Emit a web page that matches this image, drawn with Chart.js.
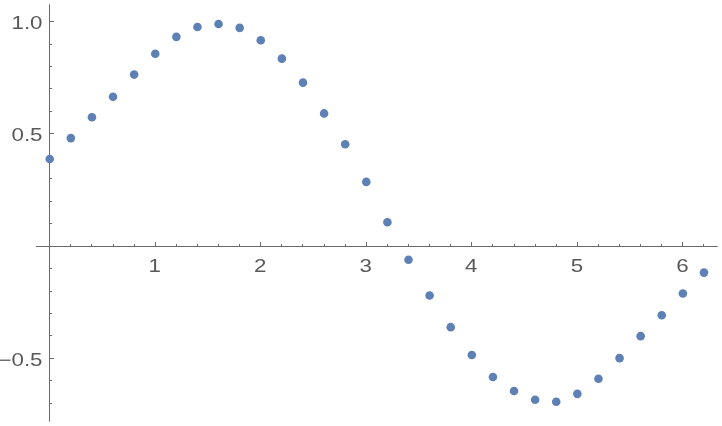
<!DOCTYPE html>
<html>
<head>
<meta charset="utf-8">
<script src="https://cdn.jsdelivr.net/npm/chart.js@4/dist/chart.umd.min.js"></script>
<style>
  html, body { margin: 0; padding: 0; background: #ffffff; }
  #wrap { width: 722px; height: 426px; }
</style>
</head>
<body>
<div id="wrap"><canvas id="c" width="722" height="426"></canvas></div>
<script>
// ---- data ----
const xValues = [0, 0.2, 0.4, 0.6, 0.8, 1.0, 1.2, 1.4, 1.6, 1.8, 2.0, 2.2, 2.4, 2.6, 2.8, 3.0,
                 3.2, 3.4, 3.6, 3.8, 4.0, 4.2, 4.4, 4.6, 4.8, 5.0, 5.2, 5.4, 5.6, 5.8, 6.0, 6.2];
const yValues = [0.388, 0.481, 0.574, 0.665, 0.764, 0.857, 0.932, 0.976, 0.989, 0.972, 0.917, 0.835,
                 0.728, 0.591, 0.454, 0.286, 0.106, -0.061, -0.220, -0.361, -0.485, -0.583, -0.645,
                 -0.684, -0.693, -0.658, -0.591, -0.499, -0.401, -0.308, -0.211, -0.118];
const xTicks = [1, 2, 3, 4, 5, 6];
const xTickLabels = ['1', '2', '3', '4', '5', '6'];
const yTicks = [-0.5, 0.5, 1.0];
const yTickLabels = ['\u22120.5', '0.5', '1.0'];
const xMinorStep = 0.2;
const yMinorStep = 0.1;

const points = xValues.map((x, i) => ({ x: x, y: yValues[i] }));

const axisColor = '#6a6a6a';
const labelColor = '#595959';
const labelFont = '18px "Liberation Sans", Arial, sans-serif';
const labelStretch = 1.24;

function drawLabel(ctx, text, x, y, align) {
  ctx.save();
  ctx.translate(x, y);
  ctx.scale(labelStretch, 1);
  ctx.textAlign = align;
  ctx.fillText(text, 0, 0);
  ctx.restore();
}

const axesPlugin = {
  id: 'mmaAxes',
  beforeDatasetsDraw(chart) {
    const ctx = chart.ctx;
    const xs = chart.scales.x, ys = chart.scales.y;
    const area = chart.chartArea;
    const x0 = Math.floor(xs.getPixelForValue(0)) + 0.5;
    const y0 = Math.floor(ys.getPixelForValue(0)) + 0.5;
    ctx.save();
    ctx.strokeStyle = axisColor;
    ctx.lineWidth = 1;
    // axis lines
    ctx.beginPath();
    ctx.moveTo(area.left, y0); ctx.lineTo(area.right, y0);
    ctx.moveTo(x0, area.top); ctx.lineTo(x0, area.bottom);
    ctx.stroke();
    // x ticks (inward = upward)
    ctx.beginPath();
    const nx = Math.round(xs.max / xMinorStep);
    for (let k = 1; k <= nx; k++) {
      const v = k * xMinorStep;
      if (v > xs.max) break;
      const major = xTicks.some(t => Math.abs(t - v) < 1e-6);
      const px = Math.floor(xs.getPixelForValue(v)) + 0.5;
      ctx.moveTo(px, y0);
      ctx.lineTo(px, y0 - (major ? 4.5 : 2.5));
    }
    // y ticks (inward = rightward)
    const kMin = Math.ceil(ys.min / yMinorStep + 1e-6);
    const kMax = Math.floor(ys.max / yMinorStep - 1e-6);
    for (let k = kMin; k <= kMax; k++) {
      if (k === 0) continue;
      const v = k * yMinorStep;
      const major = yTicks.some(t => Math.abs(t - v) < 1e-6);
      const py = Math.floor(ys.getPixelForValue(v)) + 0.5;
      ctx.moveTo(x0, py);
      ctx.lineTo(x0 + (major ? 4.5 : 2.5), py);
    }
    ctx.stroke();
    // labels
    ctx.fillStyle = labelColor;
    ctx.font = labelFont;
    ctx.textBaseline = 'alphabetic';
    xTicks.forEach((t, i) => {
      drawLabel(ctx, xTickLabels[i], xs.getPixelForValue(t) - 0.5, y0 + 25.5, 'center');
    });
    yTicks.forEach((t, i) => {
      drawLabel(ctx, yTickLabels[i], x0 - 7, ys.getPixelForValue(t) + 7.2, 'right');
    });
    ctx.restore();
  }
};

new Chart(document.getElementById('c'), {
  type: 'scatter',
  data: {
    datasets: [{
      data: points,
      backgroundColor: '#5e81b5',
      borderColor: '#5e81b5',
      borderWidth: 0,
      pointRadius: 4.3,
      pointHoverRadius: 4.3
    }]
  },
  options: {
    responsive: false,
    animation: false,
    devicePixelRatio: 1,
    layout: { padding: { left: 36, right: 4, top: 3, bottom: 3 } },
    plugins: { legend: { display: false }, tooltip: { enabled: false } },
    events: [],
    scales: {
      x: { type: 'linear', min: -0.13, max: 6.33, display: false },
      y: { type: 'linear', min: -0.782, max: 1.077, display: false }
    }
  },
  plugins: [axesPlugin]
});
</script>
</body>
</html>
